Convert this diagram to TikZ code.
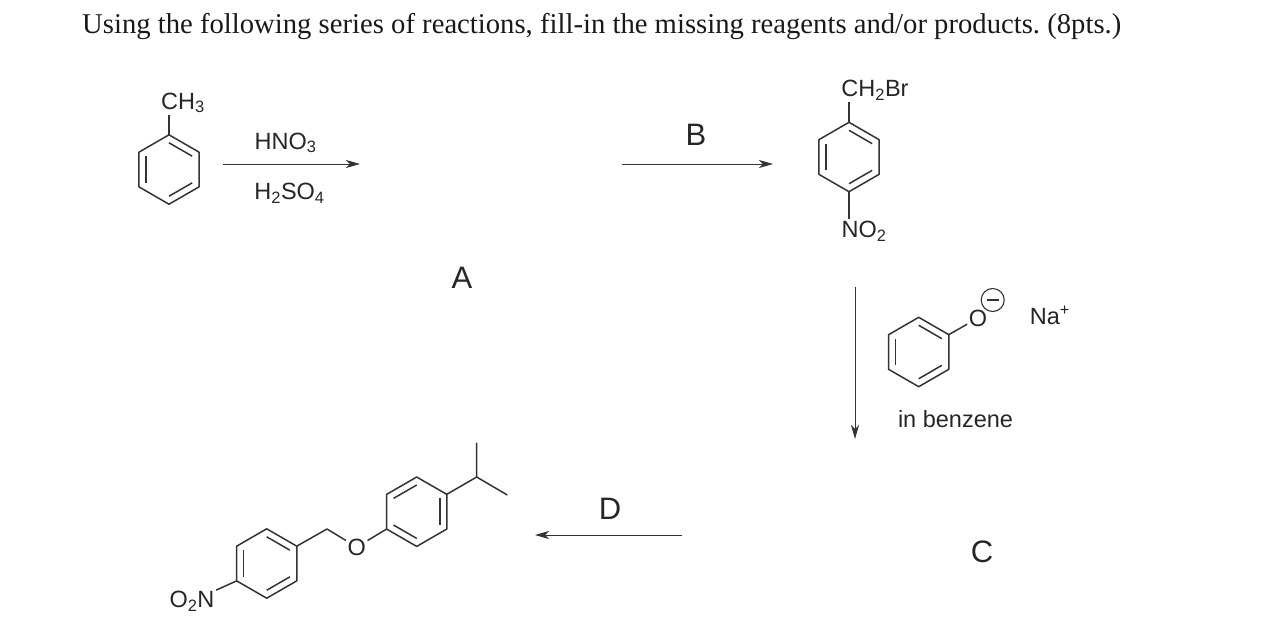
\documentclass[tikz,border=0pt]{standalone}
\usepackage{fontspec}
\setmainfont{Liberation Sans}
\newfontfamily\titlefont{Liberation Serif}
\usetikzlibrary{arrows.meta, calc}

% benzene ring: name, centre x, centre y, the three double bonds
\newcommand{\benzring}[4]{
    \coordinate (#1) at (#2,#3);
    \foreach \i in {1,...,6} {
        \coordinate (#1-\i) at ($(#1)+({34.7*cos(150-60*\i)},{-34.7*sin(150-60*\i)})$);
    }
    \draw[bond] (#1-1) -- (#1-2) -- (#1-3) -- (#1-4) -- (#1-5) -- (#1-6) -- cycle;
    \foreach \i/\j in #4 {
        \draw[bond] ($(#1)!.77!(#1-\i)$) -- ($(#1)!.77!(#1-\j)$);
    }
}

\begin{document}
\begin{tikzpicture}[x=1pt,y=-1pt,>={Stealth[length=14pt,width=8pt,inset=4pt]},thin]
    \tikzset{bond/.style={line width=1.5pt, draw=black!80, line join=round},
        rxn/.style={->, line width=1pt, draw=black!80},
        atom/.style={inner sep=1.5pt, font=\fontsize{23.5}{24}\selectfont, text=black!85},
        letter/.style={inner sep=0pt, font=\fontsize{31}{31}\selectfont, text=black!85}}
    \useasboundingbox (0,0) rectangle (1279,625);
    \node[inner sep=0pt, anchor=west, font=\titlefont\fontsize{28.67}{28}\selectfont\frenchspacing, text=black!90] (title) at (82,26.5)
        {Using the following series of reactions, fill-in the missing reagents and/or products. (8pts.)};

    % toluene
    \benzring{tol}{169}{169.5}{{1/2,3/4,5/6}}
    \node[atom] (ch3) at (183,103) {CH\textsubscript{3}};
    \draw[bond] (tol-1) -- (tol-1 |- ch3.south);
    \node[atom] (hno3) at (285.5,143) {HNO\textsubscript{3}};
    \node[atom] (h2so4) at (289.5,193) {H\textsubscript{2}SO\textsubscript{4}};
    \coordinate (s1) at (223,164);
    \coordinate (e1) at (360,164);
    \draw[rxn] (s1) -- (e1);
    \node[letter] (a) at (462,278) {A};

    % bromide
    \coordinate (s2) at (622,164);
    \coordinate (e2) at (773,164);
    \draw[rxn] (s2) -- (e2);
    \node[letter] (b) at (696,135) {B};
    \benzring{brom}{849}{157}{{1/2,3/4,5/6}}
    \node[atom] (ch2br) at (875,90) {CH\textsubscript{2}Br};
    \node[atom] (no2) at (864,231) {NO\textsubscript{2}};
    \draw[bond] (brom-1) -- (brom-1 |- ch2br.south);
    \draw[bond] (brom-4) -- (brom-4 |- no2.north);

    % phenoxide
    \coordinate (s3) at (855,287);
    \coordinate (e3) at (855,439);
    \draw[rxn] (s3) -- (e3);
    \benzring{phen}{918.7}{352}{{1/2,3/4,5/6}}
    \node[atom] (o1) at (978,318) {O};
    \draw[bond] (phen-2) -- (o1);
    \node[circle, draw=black!80, line width=1.1pt, minimum size=23pt, inner sep=0pt] (minus) at (992.7,300) {};
    \draw[bond] ($(minus.center)+(-6,0)$) -- ($(minus.center)+(6,0)$);
    \node[atom] (na) at (1050,315) {Na\textsuperscript{+}};
    \node[atom] (solv) at (955.5,419) {in benzene};
    \node[letter] (c) at (982,552) {C};

    % product
    \coordinate (s4) at (682,535);
    \coordinate (e4) at (535,535);
    \draw[rxn] (s4) -- (e4);
    \node[letter] (d) at (610,509) {D};
    \benzring{nit}{266.7}{563.5}{{1/2,3/4,5/6}}
    \benzring{ipr}{416.7}{511.7}{{6/1,2/3,4/5}}
    \node[atom] (o2n) at (192,601) {O\textsubscript{2}N};
    \draw[bond] (nit-5) -- (o2n);
    \node[atom] (o2) at (356.7,547) {O};
    \coordinate (ch2) at (327,529);
    \draw[bond] (nit-2) -- (ch2) -- (o2);
    \draw[bond] (o2) -- (ipr-5);
    \coordinate (ch) at (476.7,477);
    \coordinate (me1) at (476.7,442.7);
    \coordinate (me2) at (507.3,495);
    \draw[bond] (ipr-2) -- (ch) -- (me1);
    \draw[bond] (ch) -- (me2);
\end{tikzpicture}
\end{document}
